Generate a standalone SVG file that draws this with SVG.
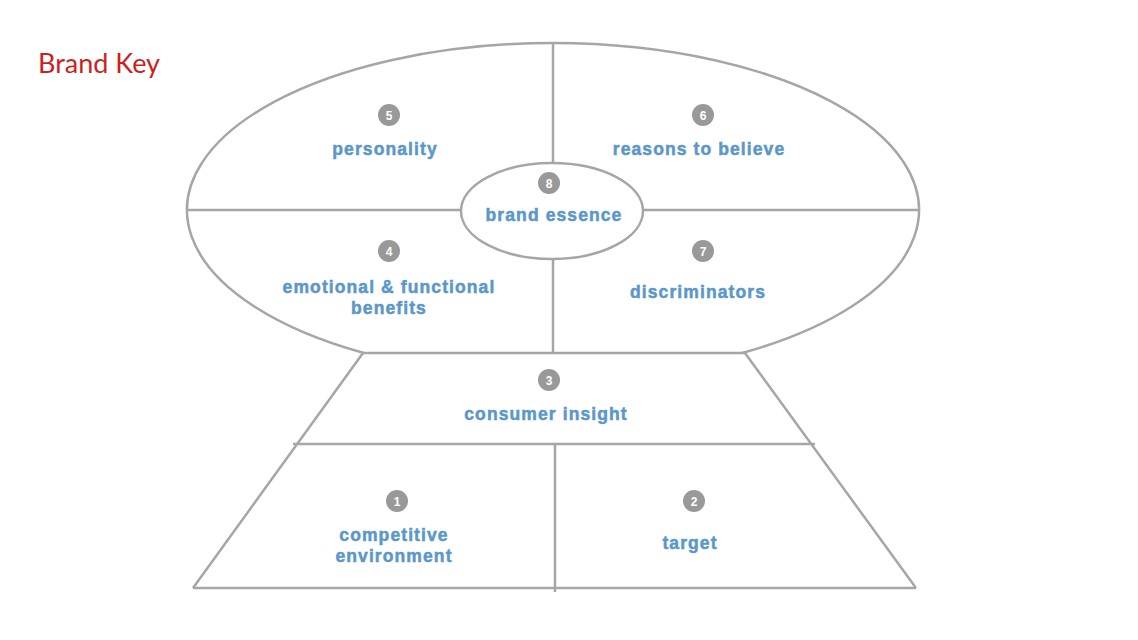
<svg xmlns="http://www.w3.org/2000/svg" width="1138" height="640" viewBox="0 0 1138 640">
<style>
.ln{fill:none;stroke:#a6a6a6;stroke-width:2.5}
.lbl{font-family:"Liberation Sans",Arial,sans-serif;font-weight:bold;font-size:17.5px;fill:#5b97c9;stroke:#5b97c9;stroke-width:0.5px;text-anchor:middle;letter-spacing:1.1px}
.bc{fill:#999999}
.bn{font-family:"Liberation Sans",Arial,sans-serif;font-weight:bold;font-size:12px;fill:#ffffff;text-anchor:middle}
.title{font-family:Lato,"Open Sans",sans-serif;font-size:27px;fill:#cc1f1f}
</style>
<rect width="1138" height="640" fill="#ffffff"/>
<text class="title" x="38" y="73">Brand Key</text>
<g id="connectors">
<path class="ln" d="M364,353 A366,167 0 1 1 742,353"/>
<line class="ln" x1="553" y1="43" x2="553" y2="164"/>
<line class="ln" x1="553" y1="259" x2="553" y2="353"/>
<line class="ln" x1="187" y1="210" x2="461" y2="210"/>
<line class="ln" x1="643" y1="210" x2="919" y2="210"/>
<polyline class="ln" points="363,353 745,353"/>
<line class="ln" x1="363" y1="353" x2="193" y2="588"/>
<line class="ln" x1="745" y1="353" x2="916" y2="588"/>
<line class="ln" x1="293" y1="444" x2="815" y2="444"/>
<line class="ln" x1="193" y1="588" x2="916" y2="588"/>
<line class="ln" x1="555" y1="444" x2="555" y2="592"/>
</g>
<g id="node-essence">
<ellipse class="ln" cx="552" cy="211" rx="91" ry="48" fill="#ffffff"/>
<circle class="bc" cx="549" cy="183" r="11"/><text class="bn" x="549" y="187.5">8</text>
<text class="lbl" x="554" y="221">brand essence</text>
</g>
<g id="node-personality">
<circle class="bc" cx="389" cy="115" r="11"/><text class="bn" x="389" y="119.5">5</text>
<text class="lbl" x="385" y="155">personality</text>
</g>
<g id="node-reasons">
<circle class="bc" cx="703" cy="115" r="11"/><text class="bn" x="703" y="119.5">6</text>
<text class="lbl" x="699" y="155">reasons to believe</text>
</g>
<g id="node-benefits">
<circle class="bc" cx="389" cy="251" r="11"/><text class="bn" x="389" y="255.5">4</text>
<text class="lbl" x="389" y="293">emotional &amp; functional</text>
<text class="lbl" x="389" y="314">benefits</text>
</g>
<g id="node-discriminators">
<circle class="bc" cx="703" cy="251" r="11"/><text class="bn" x="703" y="255.5">7</text>
<text class="lbl" x="698" y="298">discriminators</text>
</g>
<g id="node-insight">
<circle class="bc" cx="549" cy="380" r="11"/><text class="bn" x="549" y="384.5">3</text>
<text class="lbl" x="546" y="420">consumer insight</text>
</g>
<g id="node-competitive">
<circle class="bc" cx="397" cy="501" r="11"/><text class="bn" x="397" y="505.5">1</text>
<text class="lbl" x="394" y="541">competitive</text>
<text class="lbl" x="394" y="562">environment</text>
</g>
<g id="node-target">
<circle class="bc" cx="694" cy="501" r="11"/><text class="bn" x="694" y="505.5">2</text>
<text class="lbl" x="690" y="549">target</text>
</g>
</svg>
